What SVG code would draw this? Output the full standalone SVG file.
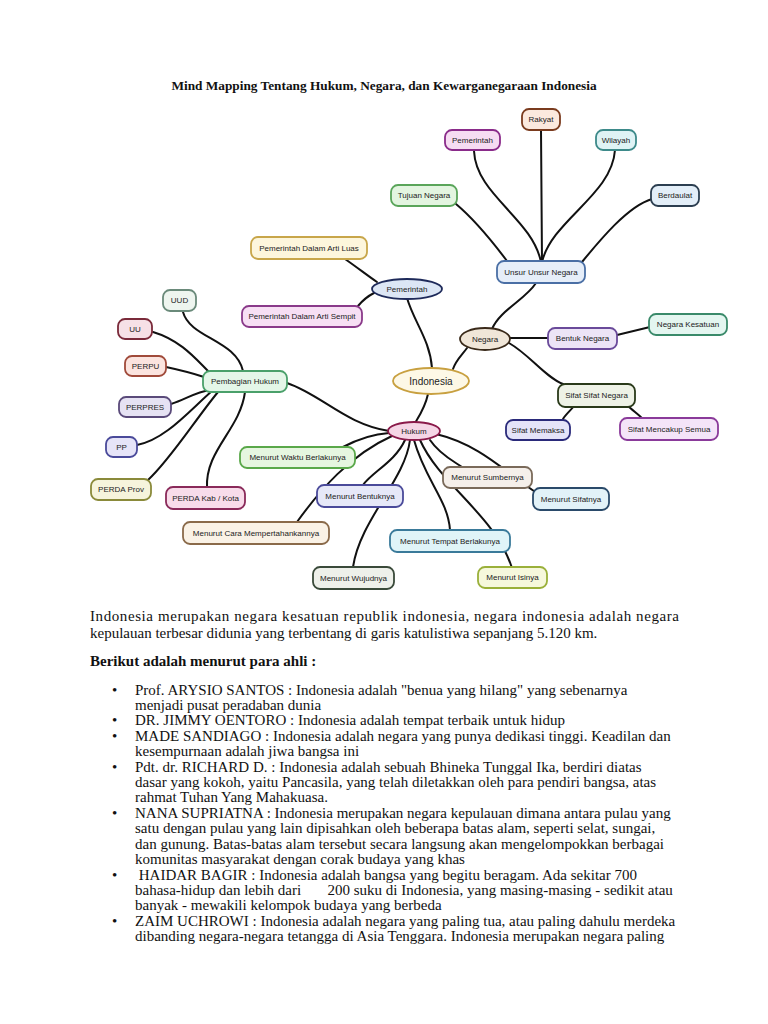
<svg xmlns="http://www.w3.org/2000/svg" width="768" height="1024" viewBox="0 0 768 1024">
<style>
.n{stroke-width:1.8}
.t{font-family:"Liberation Sans",Arial,sans-serif;font-size:8px;fill:#222;text-anchor:middle;dominant-baseline:central}
.c path{fill:none;stroke:#111;stroke-width:2;stroke-linecap:round}
.b{font-family:"Liberation Serif","Times New Roman",serif;font-size:15px;fill:#111}
</style>
<rect width="768" height="1024" fill="#fff"/>
<text x="384" y="90" text-anchor="middle" font-family="'Liberation Serif','Times New Roman',serif" font-weight="bold" font-size="13.3px" fill="#111">Mind Mapping Tentang Hukum, Negara, dan Kewarganegaraan Indonesia</text>
<g class="c" id="connectors">
<path d="M541,130 L542,262"/>
<path d="M474,151 C476,195 532,218 541,262"/>
<path d="M615,150 C612,195 552,220 542,262"/>
<path d="M456,204 C475,220 495,245 507,261"/>
<path d="M652,199 C628,206 600,240 582,262"/>
<path d="M536,283 C525,300 500,310 492,329"/>
<path d="M467,348 C462,355 456,360 453,369"/>
<path d="M407,298 C414,322 430,340 432,368"/>
<path d="M345,259 C358,268 368,276 377,282"/>
<path d="M358,306 C363,300 368,296 374,293"/>
<path d="M428,394 C425,408 418,418 415,423"/>
<path d="M510,338 L548,338"/>
<path d="M617,335 L650,327"/>
<path d="M509,343 C530,355 545,377 563,384"/>
<path d="M575,405 C571,410 566,414 563,419"/>
<path d="M627,405 C632,410 638,414 643,419"/>
<path d="M183,312 C190,338 236,340 243,371"/>
<path d="M153,332 C180,340 195,358 208,371"/>
<path d="M166,367 C180,370 192,373 204,377"/>
<path d="M171,404 C185,400 195,392 210,390"/>
<path d="M137,445 C165,440 190,410 212,391"/>
<path d="M148,480 C170,460 195,420 218,392"/>
<path d="M207,488 C205,450 240,430 245,392"/>
<path d="M287,383 C322,395 345,424 389,431"/>
<path d="M343,447 C360,438 375,434 389,433"/>
<path d="M392,436 C350,455 320,490 297,522"/>
<path d="M405,440 C395,462 372,472 363,485"/>
<path d="M410,440 C405,480 360,520 353,567"/>
<path d="M430,440 C440,455 455,462 462,467"/>
<path d="M436,434 C482,445 508,475 540,495"/>
<path d="M414,440 C425,480 448,500 450,530"/>
<path d="M420,440 C440,485 495,515 512,568"/>
</g>
<g id="rakyat"><rect class="n" x="522" y="109" width="38" height="21" rx="7" fill="#fbe9de" stroke="#7a3b1e"/><text class="t" x="541" y="119.5">Rakyat</text></g>
<g id="pemerintah-atas"><rect class="n" x="445" y="130" width="55" height="20" rx="7" fill="#f6dcf2" stroke="#8a2b8a"/><text class="t" x="472.5" y="140">Pemerintah</text></g>
<g id="wilayah"><rect class="n" x="596" y="130" width="40" height="20" rx="7" fill="#dff3f5" stroke="#3d8a8a"/><text class="t" x="616" y="140">Wilayah</text></g>
<g id="tujuan-negara"><rect class="n" x="391" y="185" width="66" height="21" rx="7" fill="#e3f5e0" stroke="#5aa55a"/><text class="t" x="424" y="195.5">Tujuan Negara</text></g>
<g id="berdaulat"><rect class="n" x="651" y="185" width="48" height="21" rx="7" fill="#e3eef8" stroke="#2c3e50"/><text class="t" x="675" y="195.5">Berdaulat</text></g>
<g id="unsur"><rect class="n" x="497" y="261" width="88" height="22" rx="7" fill="#e6eef9" stroke="#4a6fa5"/><text class="t" x="541" y="272">Unsur Unsur Negara</text></g>
<g id="arti-luas"><rect class="n" x="251" y="237" width="116" height="22" rx="7" fill="#fdf6dc" stroke="#c8a64a"/><text class="t" x="309" y="248">Pemerintah Dalam Arti Luas</text></g>
<g id="pemerintah"><ellipse class="n" cx="407" cy="289" rx="35" ry="10" fill="#dce6f5" stroke="#1e2a5a" stroke-width="2.2"/><text class="t" x="407" y="289">Pemerintah</text></g>
<g id="arti-sempit"><rect class="n" x="242" y="306" width="120" height="21" rx="7" fill="#f7dff4" stroke="#8a3a8a"/><text class="t" x="302" y="316.5">Pemerintah Dalam Arti Sempit</text></g>
<g id="uud"><rect class="n" x="163" y="290" width="33" height="21" rx="7" fill="#eef5ef" stroke="#6a8a7a"/><text class="t" x="179.5" y="300.5">UUD</text></g>
<g id="uu"><rect class="n" x="118" y="319" width="34" height="20" rx="7" fill="#f6e0e6" stroke="#7a2a3a"/><text class="t" x="135" y="329">UU</text></g>
<g id="perpu"><rect class="n" x="125" y="356" width="41" height="20" rx="7" fill="#fbe4df" stroke="#a04a3a"/><text class="t" x="145.5" y="366">PERPU</text></g>
<g id="perpres"><rect class="n" x="119" y="397" width="52" height="20" rx="7" fill="#e6e2f3" stroke="#5a4a7a"/><text class="t" x="145" y="407">PERPRES</text></g>
<g id="pp"><rect class="n" x="106" y="437" width="31" height="20" rx="7" fill="#e6e4f8" stroke="#4a4a9a"/><text class="t" x="121.5" y="447">PP</text></g>
<g id="perda-prov"><rect class="n" x="91" y="479" width="60" height="21" rx="7" fill="#f6f4dc" stroke="#8a8a3a"/><text class="t" x="121" y="489.5">PERDA Prov</text></g>
<g id="perda-kab"><rect class="n" x="166" y="487" width="79" height="22" rx="7" fill="#f8dcea" stroke="#8a2a5a"/><text class="t" x="205.5" y="498">PERDA Kab / Kota</text></g>
<g id="pembagian-hukum"><rect class="n" x="203" y="371" width="84" height="21" rx="7" fill="#e4f6e8" stroke="#4aa06a"/><text class="t" x="245" y="381.5">Pembagian Hukum</text></g>
<g id="waktu"><rect class="n" x="240" y="447" width="115" height="21" rx="7" fill="#e6f6e0" stroke="#5aa84a"/><text class="t" x="297.5" y="457.5">Menurut Waktu Berlakunya</text></g>
<g id="bentuknya"><rect class="n" x="317" y="485" width="86" height="22" rx="7" fill="#e6e8f8" stroke="#4a4a9a"/><text class="t" x="360" y="496">Menurut Bentuknya</text></g>
<g id="cara"><rect class="n" x="183" y="522" width="146" height="22" rx="7" fill="#faf2e6" stroke="#8a6a4a"/><text class="t" x="256" y="533">Menurut Cara Mempertahankannya</text></g>
<g id="wujudnya"><rect class="n" x="313" y="567" width="81" height="22" rx="7" fill="#eef0ea" stroke="#3a4a3a"/><text class="t" x="353.5" y="578">Menurut Wujudnya</text></g>
<g id="sumbernya"><rect class="n" x="443" y="467" width="89" height="21" rx="7" fill="#f5efea" stroke="#7a6a5a"/><text class="t" x="487.5" y="477.5">Menurut Sumbernya</text></g>
<g id="sifatnya"><rect class="n" x="533" y="488" width="76" height="22" rx="7" fill="#e2f2f8" stroke="#2a4a6a"/><text class="t" x="571" y="499">Menurut Sifatnya</text></g>
<g id="tempat"><rect class="n" x="390" y="530" width="120" height="22" rx="7" fill="#e0f4f8" stroke="#3a7a9a"/><text class="t" x="450" y="541">Menurut Tempat Berlakunya</text></g>
<g id="isinya"><rect class="n" x="478" y="567" width="69" height="21" rx="7" fill="#f6f8dc" stroke="#9ab03a"/><text class="t" x="512.5" y="577.5">Menurut Isinya</text></g>
<g id="hukum"><ellipse class="n" cx="414" cy="431" rx="26" ry="9" fill="#f5d6e6" stroke="#8a1a4a" stroke-width="2.2"/><text class="t" x="414" y="431">Hukum</text></g>
<g id="indonesia"><ellipse class="n" cx="431" cy="381" rx="38" ry="13" fill="#fdf8e6" stroke="#c8a040" stroke-width="2.5"/><text class="t" x="431" y="381" style="font-size:10px">Indonesia</text></g>
<g id="negara"><ellipse class="n" cx="485" cy="339" rx="25" ry="11" fill="#f0e6d8" stroke="#3a2a1a" stroke-width="2.2"/><text class="t" x="485" y="339">Negara</text></g>
<g id="bentuk-negara"><rect class="n" x="548" y="328" width="69" height="21" rx="7" fill="#ece4f6" stroke="#6a4a9a"/><text class="t" x="582.5" y="338.5">Bentuk Negara</text></g>
<g id="negara-kesatuan"><rect class="n" x="649" y="314" width="78" height="21" rx="7" fill="#e4f6f0" stroke="#3a8a6a"/><text class="t" x="688" y="324.5">Negara Kesatuan</text></g>
<g id="sifat-sifat"><rect class="n" x="558" y="384" width="77" height="23" rx="7" fill="#eef2e6" stroke="#2a3a1a"/><text class="t" x="596.5" y="395.5">Sifat Sifat Negara</text></g>
<g id="sifat-memaksa"><rect class="n" x="506" y="420" width="64" height="20" rx="7" fill="#e4e4f8" stroke="#2a2a7a"/><text class="t" x="538" y="430">Sifat Memaksa</text></g>
<g id="sifat-mencakup"><rect class="n" x="620" y="418" width="98" height="22" rx="7" fill="#f4e4f8" stroke="#8a3a9a"/><text class="t" x="669" y="429">Sifat Mencakup Semua</text></g>
<text class="b" x="90" y="621" textLength="589" lengthAdjust="spacing">Indonesia merupakan negara kesatuan republik indonesia, negara indonesia adalah negara</text>
<text class="b" x="90" y="638">kepulauan terbesar didunia yang terbentang di garis katulistiwa sepanjang 5.120 km.</text>
<text class="b" x="90" y="666" font-weight="bold">Berikut adalah menurut para ahli :</text>
<g class="b">
<text x="112" y="695">•</text><text x="135" y="695">Prof. ARYSIO SANTOS : Indonesia adalah "benua yang hilang" yang sebenarnya</text>
<text x="135" y="710">menjadi pusat peradaban dunia</text>
<text x="112" y="725">•</text><text x="135" y="725">DR. JIMMY OENTORO : Indonesia adalah tempat terbaik untuk hidup</text>
<text x="112" y="741">•</text><text x="135" y="741">MADE SANDIAGO : Indonesia adalah negara yang punya dedikasi tinggi. Keadilan dan</text>
<text x="135" y="756">kesempurnaan adalah jiwa bangsa ini</text>
<text x="112" y="772">•</text><text x="135" y="772">Pdt. dr. RICHARD D. : Indonesia adalah sebuah Bhineka Tunggal Ika, berdiri diatas</text>
<text x="135" y="787">dasar yang kokoh, yaitu Pancasila, yang telah diletakkan oleh para pendiri bangsa, atas</text>
<text x="135" y="802">rahmat Tuhan Yang Mahakuasa.</text>
<text x="112" y="818">•</text><text x="135" y="818">NANA SUPRIATNA : Indonesia merupakan negara kepulauan dimana antara pulau yang</text>
<text x="135" y="833">satu dengan pulau yang lain dipisahkan oleh beberapa batas alam, seperti selat, sungai,</text>
<text x="135" y="849">dan gunung. Batas-batas alam tersebut secara langsung akan mengelompokkan berbagai</text>
<text x="135" y="864">komunitas masyarakat dengan corak budaya yang khas</text>
<text x="112" y="880">•</text><text x="135" y="880" xml:space="preserve"> HAIDAR BAGIR : Indonesia adalah bangsa yang begitu beragam. Ada sekitar 700</text>
<text x="135" y="895" xml:space="preserve">bahasa-hidup dan lebih dari       200 suku di Indonesia, yang masing-masing - sedikit atau</text>
<text x="135" y="910">banyak - mewakili kelompok budaya yang berbeda</text>
<text x="112" y="926">•</text><text x="135" y="926">ZAIM UCHROWI : Indonesia adalah negara yang paling tua, atau paling dahulu merdeka</text>
<text x="135" y="941">dibanding negara-negara tetangga di Asia Tenggara. Indonesia merupakan negara paling</text>
</g>
</svg>
